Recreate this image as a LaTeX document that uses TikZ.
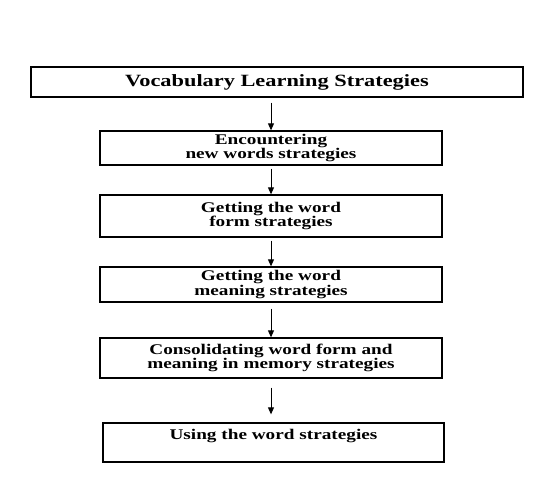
\documentclass[tikz,border=0pt]{standalone}
\usepackage{fontspec}
\setmainfont{Liberation Serif}[FakeStretch=1.3]
\usetikzlibrary{arrows.meta}

\begin{document}
\begin{tikzpicture}[
  x=1pt, y=-1pt,
  every node/.style={font=\fontsize{14.8}{14.6}\selectfont\bfseries, align=center},
  box/.style={draw=black, line width=1.3pt, inner sep=2pt, minimum width=342pt},
  arr/.style={-{Triangle[length=7pt,width=6pt]}, line width=0.9pt}
]
\useasboundingbox (0,0) rectangle (550,484);
% the six boxes:
\node [box, minimum width=492pt, minimum height=30pt, font=\fontsize{17.2}{18}\selectfont\bfseries] (vls) at (277,82) {Vocabulary Learning Strategies};
\node [box, minimum height=34pt] (enc) at (271,148) {Encountering\\new words strategies};
\node [box, minimum height=42pt] (form) at (271,216) {Getting the word\\form strategies};
\node [box, minimum height=35pt] (mean) at (271,284.5) {Getting the word\\meaning strategies};
\node [box, minimum height=40pt] (cons) at (271,358) {Consolidating word form and\\meaning in memory strategies};
\node [box, minimum width=341pt, text height=14pt, text depth=21pt] (use) at (273.5,442.5) {Using the word strategies};

% arrows between them:
\draw [arr] ([yshift=-5pt]vls.south -| enc.north) -- (enc.north);
\draw [arr] ([yshift=-3pt]enc.south) -- (form.north);
\draw [arr] ([yshift=-3pt]form.south) -- (mean.north);
\draw [arr] ([yshift=-6pt]mean.south) -- (cons.north);
\draw [arr] ([yshift=-9pt]cons.south) -- ([yshift=8pt]use.north -| cons.south);

\end{tikzpicture}
\end{document}
